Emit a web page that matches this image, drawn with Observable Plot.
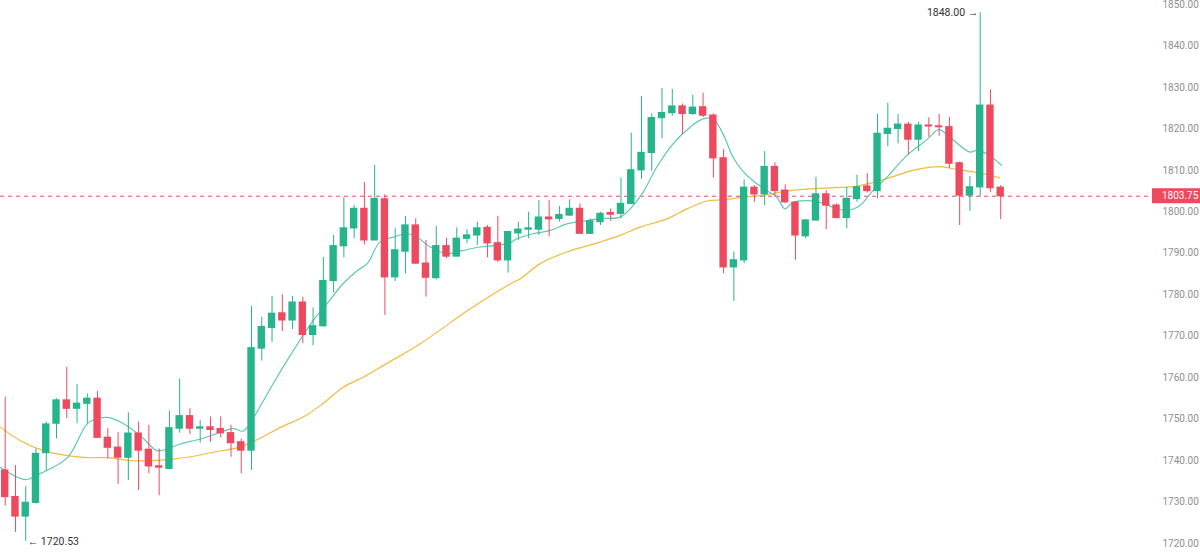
<!DOCTYPE html>
<html><head><meta charset="utf-8">
<script src="https://cdn.jsdelivr.net/npm/d3@7"></script>
<script src="https://cdn.jsdelivr.net/npm/@observablehq/plot@0.6"></script>
<style>html,body{margin:0;padding:0;background:#fff;overflow:hidden}#chart svg{display:block}</style>
</head><body><div id="chart"></div>
<script>
// OHLC per candle (index 0..97)
const opens = [1737.6,1731.2,1726.5,1729.8,1741.8,1748.9,1754.5,1752.5,1753.7,1754.9,
1745.5,1743.1,1740.7,1746.5,1742.6,1738.6,1738.0,1747.7,1750.7,1747.7,
1748.0,1747.6,1746.6,1744.4,1742.4,1767.0,1772.0,1775.5,1773.8,1778.1,
1770.3,1772.4,1783.3,1791.7,1796.0,1800.7,1793.1,1803.0,1784.2,1790.4,
1796.7,1787.5,1784.0,1791.7,1789.2,1793.5,1794.3,1796.1,1792.4,1788.3,
1794.8,1795.7,1795.7,1798.6,1798.3,1799.1,1800.7,1794.7,1797.5,1799.7,
1799.5,1801.9,1810.0,1814.2,1822.6,1823.8,1825.4,1823.6,1825.2,1823.2,
1812.9,1786.6,1788.3,1805.8,1804.2,1810.8,1805.1,1802.2,1794.1,1797.9,
1804.2,1801.5,1798.5,1803.1,1806.1,1805.0,1818.8,1820.0,1821.0,1817.4,
1820.8,1820.6,1820.4,1811.7,1803.9,1805.9,1825.6,1805.8];
const highs = [1755.3,1738.8,1733.7,1742.8,1749.3,1754.9,1762.5,1758.3,1756.1,1756.7,
1747.7,1746.8,1751.5,1749.3,1748.5,1742.8,1751.9,1759.7,1752.5,1749.7,
1750.5,1750.5,1748.5,1745.2,1777.2,1774.6,1779.6,1780.0,1779.6,1779.4,
1776.8,1789.0,1794.3,1803.4,1801.5,1807.1,1811.2,1804.1,1796.0,1798.9,
1798.3,1793.1,1796.5,1793.6,1796.1,1795.7,1797.5,1796.7,1798.9,1795.3,
1797.5,1799.9,1802.7,1802.7,1801.3,1802.9,1801.9,1798.3,1799.9,1800.7,
1808.2,1819.0,1827.8,1823.6,1829.7,1829.5,1826.0,1828.1,1828.6,1823.6,
1815.0,1790.3,1807.7,1806.3,1814.5,1811.8,1806.5,1802.3,1798.1,1808.3,
1805.1,1801.9,1805.9,1808.8,1809.2,1823.5,1826.2,1823.5,1821.6,1821.6,
1822.7,1823.5,1822.8,1812.0,1808.5,1848.0,1829.4,1806.3];
const lows = [1729.0,1722.7,1720.53,1729.5,1737.5,1745.2,1750.1,1748.9,1748.9,1745.3,
1740.4,1734.2,1735.2,1732.8,1736.8,1731.5,1737.8,1746.6,1746.3,1744.2,
1744.4,1745.5,1740.8,1736.8,1737.6,1764.0,1768.5,1771.1,1771.6,1768.2,
1767.7,1772.2,1780.4,1788.9,1793.5,1792.0,1793.0,1775.0,1783.2,1785.0,
1787.4,1779.4,1783.6,1788.7,1789.1,1792.3,1791.9,1788.9,1787.8,1785.2,
1793.1,1793.5,1794.3,1794.0,1797.5,1798.9,1794.5,1794.5,1796.7,1797.7,
1798.3,1801.8,1807.8,1809.8,1817.6,1823.0,1818.6,1823.2,1822.7,1808.1,
1785.0,1778.4,1787.5,1802.3,1801.5,1803.5,1801.9,1788.3,1793.5,1797.8,
1795.7,1798.3,1795.9,1802.3,1804.5,1803.1,1815.7,1816.4,1813.8,1814.5,
1818.0,1818.2,1810.4,1796.7,1800.1,1803.5,1804.7,1798.1];
const closes = [1731.2,1726.5,1729.8,1741.6,1748.7,1754.5,1752.5,1753.7,1754.9,1745.5,
1743.1,1740.7,1746.5,1742.4,1738.6,1738.3,1747.8,1750.7,1747.7,1748.0,
1747.4,1746.6,1744.2,1742.4,1767.1,1772.2,1775.4,1773.8,1778.1,1770.3,
1772.4,1783.3,1791.7,1796.0,1800.7,1793.1,1803.1,1784.2,1790.7,1796.7,
1787.5,1784.1,1791.7,1789.2,1793.5,1794.3,1796.0,1792.4,1788.3,1795.1,
1795.7,1796.0,1798.6,1798.2,1799.2,1800.7,1794.7,1797.7,1799.5,1799.3,
1801.9,1810.0,1814.2,1822.6,1823.8,1825.4,1823.6,1825.1,1823.2,1812.9,
1786.6,1788.3,1805.8,1804.2,1810.8,1805.0,1802.3,1794.3,1797.9,1804.2,
1801.5,1798.5,1803.1,1805.9,1805.0,1818.8,1820.0,1821.0,1817.4,1820.8,
1820.6,1820.4,1811.6,1803.9,1805.9,1825.6,1805.7,1803.75];

// Fast moving average (teal): candle position -> value
const fastMaIdx = [-0.46,1.98,3.44,6.07,8.01,8.99,9.96,11.23,13.17,14.8,15.77,17.07,19.02,20.96,22.23,23.2,24.18,26.12,28.07,30.02,31.38,32.94,34.3,35.28,36.54,37.81,39.14,40.12,41.41,43.04,44.63,46.28,47.9,49.2,49.85,51.44,53.1,54.72,56.31,57.96,59.91,61.18,62.15,63.49,65.07,66.73,67.99,68.97,69.94,70.91,71.8,72.86,74.23,75.2,75.98,76.76,78.12,79.39,80.65,82.02,83.28,84.54,85.91,87.86,89.81,90.97,92.04,93.99,94.67,95.64,97.1];
const fastMaVal = [1738.3,1735.4,1736.9,1740.7,1748.9,1750.1,1750.4,1749.3,1746.0,1742.4,1742.8,1744.0,1745.2,1746.8,1747.7,1747.1,1750.3,1758.6,1766.5,1773.8,1777.9,1782.7,1785.8,1787.5,1792.8,1793.9,1794.7,1793.9,1791.5,1789.9,1790.7,1791.5,1791.9,1792.5,1793.5,1794.7,1795.5,1797.1,1797.7,1798.4,1798.7,1801.5,1804.7,1810.8,1816.4,1820.4,1822.4,1822.4,1818.8,1813.2,1810.0,1807.5,1805.1,1803.5,1800.7,1802.3,1802.7,1802.3,1801.1,1800.3,1801.5,1805.1,1808.3,1813.6,1817.4,1819.8,1818.0,1814.4,1814.8,1814.0,1811.2];
// Slow moving average (yellow)
const slowMaIdx = [-0.46,1.49,3.73,6.07,8.01,9.96,12.2,14.44,16.1,17.75,20.28,22.91,24.86,26.81,29.04,30.99,32.94,34.89,36.54,40.44,45.31,49.2,50.17,52.12,54.72,57.96,59.91,61.86,64.49,66.44,68.38,69.94,72.57,73.54,76.46,79.68,82.99,85.91,88.44,91.07,92.72,94.67,96.91];
const slowMaVal = [1748.0,1744.8,1742.4,1741.2,1740.7,1740.7,1740.0,1740.0,1740.3,1740.8,1742.0,1743.3,1745.4,1748.0,1750.5,1753.8,1757.7,1760.1,1762.5,1768.2,1776.6,1782.6,1783.8,1787.5,1790.3,1792.7,1794.3,1796.3,1798.3,1800.7,1802.6,1802.9,1803.7,1803.9,1805.1,1805.7,1806.2,1808.0,1810.0,1810.9,1810.2,1809.5,1808.2];

const yTicks = [1720,1730,1740,1750,1760,1770,1780,1790,1800,1810,1820,1830,1840,1850];

const UP = "#26b48c", DOWN = "#ee4a5f";
const candles = opens.map((o, i) => ({
  i, open: o, high: highs[i], low: lows[i], close: closes[i],
  top: Math.max(o, closes[i]), bot: Math.min(o, closes[i]),
  up: closes[i] >= o
}));
const fastMa = fastMaIdx.map((x, k) => ({x, v: fastMaVal[k]}));
const slowMa = slowMaIdx.map((x, k) => ({x, v: slowMaVal[k]}));
const last = candles[candles.length - 1];
const hiIdx = d3.maxIndex(highs), loIdx = d3.minIndex(lows);
const FONT = "Roboto, 'Noto Sans', sans-serif";

const plot = Plot.plot({
  width: 1200, height: 556,
  marginLeft: 0, marginRight: 48, marginTop: 0, marginBottom: 0,
  style: {fontFamily: FONT, fontSize: "10px", background: "#fff"},
  x: {type: "linear", domain: [-0.458, 111.79], axis: null},
  y: {domain: [1716.86, 1850.96], axis: null},
  marks: [
    Plot.ruleY([last.close], {stroke: DOWN, strokeWidth: 1, strokeDasharray: "4,4"}),
    Plot.line(slowMa, {x: "x", y: "v", stroke: "#f2bb3c", strokeWidth: 1.2, curve: "catmull-rom"}),
    Plot.line(fastMa, {x: "x", y: "v", stroke: "#5cc8b6", strokeWidth: 1.2, curve: "catmull-rom"}),
    Plot.ruleX(candles, {x: "i", y1: "low", y2: "high", stroke: d => d.up ? UP : DOWN, strokeWidth: 1}),
    Plot.rect(candles, {x1: d => d.i - 0.36, x2: d => d.i + 0.36, y1: "bot", y2: "top",
      fill: d => d.up ? UP : DOWN, insetTop: -0.6, insetBottom: -0.6}),
    Plot.axisY({anchor: "right", ticks: yTicks, tickFormat: d => d.toFixed(2), tickSize: 0, tickPadding: 10, fill: "#8f8f8f", fontSize: 10}),
    Plot.text([candles[hiIdx]], {x: "i", y: "high", text: d => d.high.toFixed(2) + " \u2192", textAnchor: "end", dx: -2, fill: "#333", fontSize: 10.5}),
    Plot.text([candles[loIdx]], {x: "i", y: "low", text: d => "\u2190 " + d.low.toFixed(2), textAnchor: "start", dx: 2, fill: "#333", fontSize: 10.5})
  ]
});

// current price label on the axis
const ys = plot.scale("y"), xs = plot.scale("x");
const yy = ys.apply(last.close), xr = xs.range[1];
const g = d3.select(plot).append("g");
g.append("rect").attr("x", xr).attr("y", yy - 7.5).attr("width", 1200 - xr).attr("height", 15).attr("fill", DOWN);
g.append("text").attr("x", xr + 10).attr("y", yy).attr("dy", "0.35em").attr("fill", "#fff")
  .attr("text-anchor", "start").attr("font-size", 10).attr("font-family", FONT).text(last.close.toFixed(2));

document.getElementById("chart").appendChild(plot);
</script></body></html>
